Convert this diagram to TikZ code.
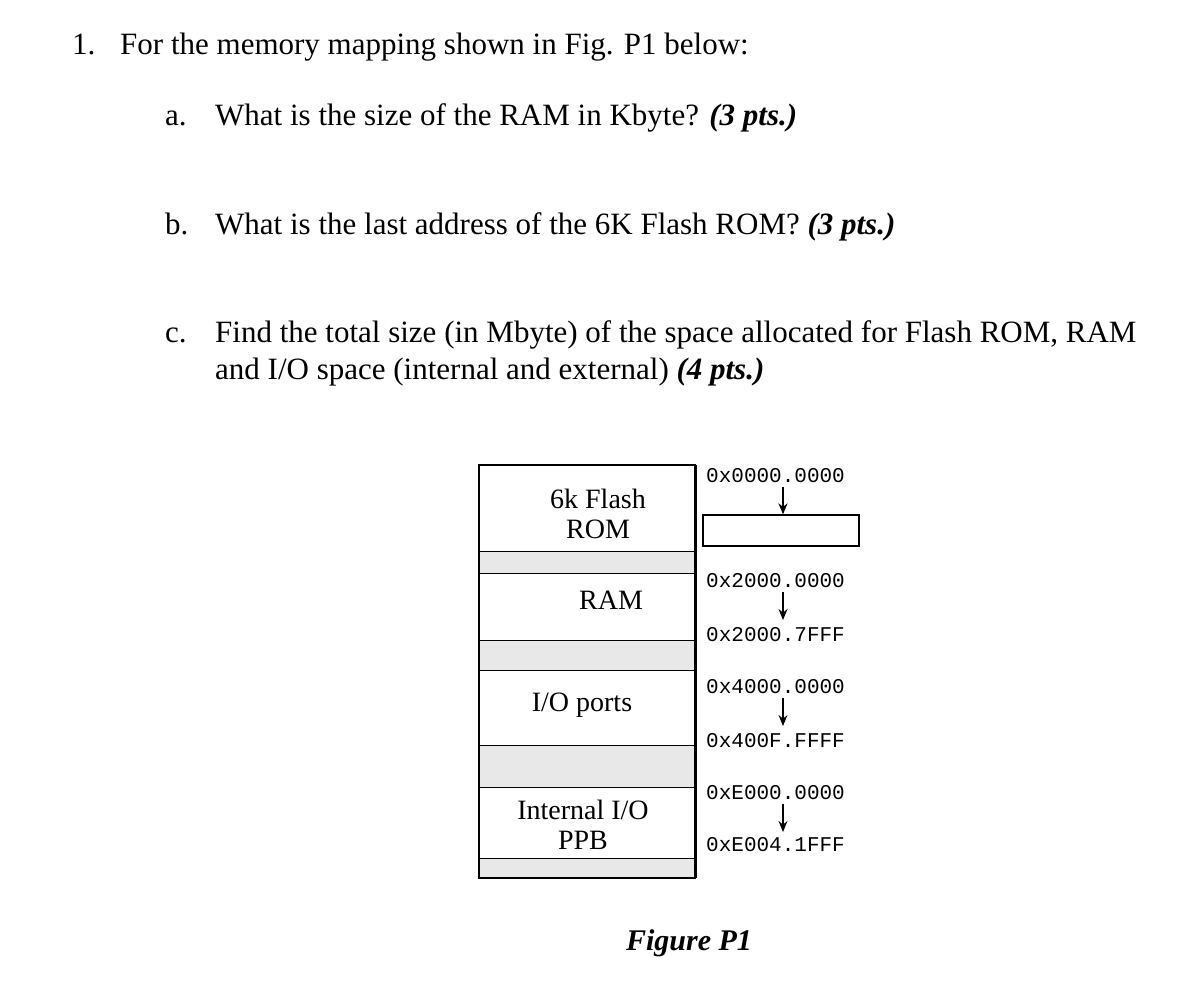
\documentclass[tikz,border=0pt]{standalone}
\usepackage{fontspec}
\setmainfont{Liberation Serif}
\newfontfamily\addrfont{Liberation Mono}
\usetikzlibrary{arrows.meta}
\begin{document}
\begin{tikzpicture}[x=1pt,y=-1pt,
  q/.style={anchor=base west,inner sep=0,font=\fontsize{31}{36}\selectfont},
  addr/.style={anchor=west,inner sep=0,font=\addrfont\fontsize{21}{24}\selectfont},
  lab/.style={align=center,inner sep=0,font=\fontsize{28}{30}\selectfont},
  gap/.style={fill=black!9,draw=black,line width=1pt},
  seg/.style={fill=white,draw=black,line width=1pt},
  arr/.style={-{Stealth[length=11pt,width=9pt]},line width=1.5pt}]
\useasboundingbox (0,0) rectangle (1184,1000);
\node[q] (n1) at (72,55) {1.};
\node[q] (l1) at (120,55) {For the memory mapping shown in Fig. P1 below:};
\node[q] (na) at (165,126) {a.};
\node[q] (la) at (215,126) {What is the size of the RAM in Kbyte? \textbf{\textit{(3 pts.)}}};
\node[q] (nb) at (165,235) {b.};
\node[q] (lb) at (215,235) {What is the last address of the 6K Flash ROM? \textbf{\textit{(3 pts.)}}};
\node[q] (nc) at (165,343) {c.};
\node[q] (lc) at (215,343) {Find the total size (in Mbyte) of the space allocated for Flash ROM, RAM};
\node[q] (lc2) at (215,380) {and I/O space (internal and external) \textbf{\textit{(4 pts.)}}};
% memory map
\draw[seg] (479,465) rectangle (695,551);
\draw[gap] (479,551) rectangle (695,573);
\draw[seg] (479,573) rectangle (695,640);
\draw[gap] (479,640) rectangle (695,670);
\draw[seg] (479,670) rectangle (695,745);
\draw[gap] (479,745) rectangle (695,787);
\draw[seg] (479,787) rectangle (695,858);
\draw[gap] (479,858) rectangle (695,878);
\draw[line width=2pt] (479,465) rectangle (695,878);
\draw[line width=3pt] (695,465) -- (695,878);
\node[lab] (rom) at (598,514) {6k Flash\\ROM};
\node[lab] (ram) at (611,600) {RAM};
\node[lab] (io) at (582,705) {I/O ports};
\node[lab] (iio) at (583,825) {Internal I/O\\PPB};
\node[draw,line width=1.3pt,minimum width=156pt,minimum height=31pt,inner sep=0] (blank) at (781,530.5) {};
\node[addr] (a1) at (706,476) {0x0000.0000};
\node[addr] (a2) at (706,581) {0x2000.0000};
\node[addr] (a3) at (706,635) {0x2000.7FFF};
\node[addr] (a4) at (706,687) {0x4000.0000};
\node[addr] (a5) at (706,741) {0x400F.FFFF};
\node[addr] (a6) at (706,793) {0xE000.0000};
\node[addr] (a7) at (706,845) {0xE004.1FFF};
\draw[arr] (783,487) -- (blank.north-|783,0);
\draw[arr] (783,592) -- (783,620);
\draw[arr] (783,698) -- (783,726);
\draw[arr] (783,804) -- (783,832);
\node[inner sep=0,anchor=base,font=\fontsize{30}{34}\selectfont\bfseries\itshape] (fig) at (689,950) {Figure P1};
\end{tikzpicture}
\end{document}
